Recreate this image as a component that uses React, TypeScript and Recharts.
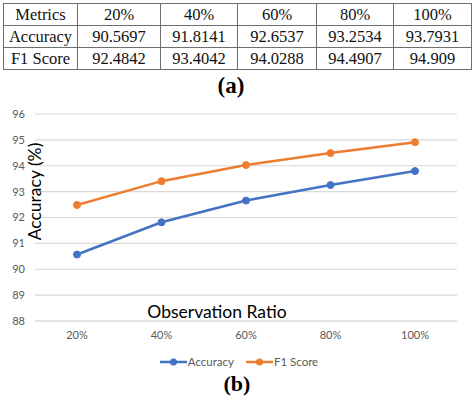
import React from 'react';
import { CartesianGrid, Legend, Line, LineChart, XAxis, YAxis } from 'recharts';

const ratios = ['20%', '40%', '60%', '80%', '100%'];
const accuracy = [90.5697, 91.8141, 92.6537, 93.2534, 93.7931];
const f1Score = [92.4842, 93.4042, 94.0288, 94.4907, 94.909];
const accuracyLabels = ['90.5697', '91.8141', '92.6537', '93.2534', '93.7931'];
const f1Labels = ['92.4842', '93.4042', '94.0288', '94.4907', '94.909'];
const yTicks = [88, 89, 90, 91, 92, 93, 94, 95, 96];

const BLUE = '#4472C4';
const ORANGE = '#ED7D31';
const GREY = '#595959';
const FONT = 'Lato, "Open Sans", sans-serif';

const data = ratios.map((r, i) => ({ ratio: r, Accuracy: accuracy[i], 'F1 Score': f1Score[i] }));

const colWidths = [74, 83, 77, 79, 77, 78];
const cell: React.CSSProperties = {
  border: '1px solid #6f6f6f',
  textAlign: 'center',
  padding: 0,
  height: 21,
  lineHeight: '20px',
};

const LegendContent = ({ payload }: any) => (
  <div style={{ display: 'flex', justifyContent: 'center', gap: 12, fontFamily: FONT, fontSize: 11.5, color: GREY }}>
    {(payload || []).map((p: any) => (
      <div key={p.value} style={{ display: 'flex', alignItems: 'center' }}>
        <svg width={27} height={10}>
          <line x1={0} y1={5} x2={27} y2={5} stroke={p.color} strokeWidth={2.5} />
          <circle cx={13.5} cy={5} r={3.5} fill={p.color} />
        </svg>
        <span style={{ marginLeft: 1 }}>{p.value}</span>
      </div>
    ))}
  </div>
);

export default function App() {
  return (
    <div style={{ position: 'absolute', left: 0, top: 0, width: 474, height: 397, background: '#fff', overflow: 'hidden' }}>
      <table
        style={{
          position: 'absolute',
          left: 3,
          top: 3,
          borderCollapse: 'collapse',
          tableLayout: 'fixed',
          fontFamily: '"Liberation Serif", "Times New Roman", serif',
          fontSize: 16.5,
          color: '#111',
        }}
      >
        <colgroup>
          {colWidths.map((w, i) => (
            <col key={i} style={{ width: w }} />
          ))}
        </colgroup>
        <tbody>
          <tr>
            <td style={cell}>Metrics</td>
            {ratios.map((r) => (
              <td key={r} style={cell}>{r}</td>
            ))}
          </tr>
          <tr>
            <td style={cell}>Accuracy</td>
            {accuracyLabels.map((v) => (
              <td key={v} style={cell}>{v}</td>
            ))}
          </tr>
          <tr>
            <td style={cell}>F1 Score</td>
            {f1Labels.map((v) => (
              <td key={v} style={cell}>{v}</td>
            ))}
          </tr>
        </tbody>
      </table>

      <div style={{ position: 'absolute', left: 0, width: 462, top: 73, textAlign: 'center', fontFamily: '"Liberation Serif", serif', fontWeight: 'bold', fontSize: 23 }}>
        (a)
      </div>

      <div style={{ position: 'absolute', left: 0, top: 100 }}>
        <LineChart width={474} height={297} data={data} margin={{ top: 14, right: 17, left: 0, bottom: 46 }}>
          <CartesianGrid vertical={false} stroke="#d9d9d9" strokeWidth={1.2} />
          <XAxis
            dataKey="ratio"
            height={30}
            padding={{ left: 42, right: 42 }}
            tickLine={false}
            axisLine={{ stroke: '#d9d9d9', strokeWidth: 1.2 }}
            tickMargin={4}
            tick={{ fill: GREY, fontSize: 11, fontFamily: FONT }}
            label={{
              content: ({ viewBox }: any) => (
                <text
                  x={viewBox.x + viewBox.width / 2 - 29}
                  y={viewBox.y - 3}
                  textAnchor="middle"
                  fontFamily={FONT}
                  fontSize={17.5}
                  fill="#000"
                >
                  Observation Ratio
                </text>
              ),
            }}
          />
          <YAxis
            width={35}
            domain={[88, 96]}
            ticks={yTicks}
            tickLine={false}
            axisLine={false}
            tickMargin={4}
            tick={{ fill: GREY, fontSize: 11, fontFamily: FONT }}
            label={{
              content: ({ viewBox }: any) => {
                const x = viewBox.x + viewBox.width + 6;
                const y = viewBox.y + viewBox.height / 2 - 26;
                return (
                  <text
                    x={x}
                    y={y}
                    transform={`rotate(-90, ${x}, ${y})`}
                    textAnchor="middle"
                    fontFamily={FONT}
                    fontSize={17.5}
                    fill="#000"
                  >
                    Accuracy (%)
                  </text>
                );
              },
            }}
          />
          <Legend
            verticalAlign="middle"
            layout="horizontal"
            wrapperStyle={{ top: 255, left: 0, width: 478 }}
            content={<LegendContent />}
          />
          <Line
            type="linear"
            dataKey="Accuracy"
            stroke={BLUE}
            strokeWidth={2.5}
            dot={{ r: 3.5, fill: BLUE, stroke: BLUE, strokeWidth: 1 }}
            isAnimationActive={false}
          />
          <Line
            type="linear"
            dataKey="F1 Score"
            stroke={ORANGE}
            strokeWidth={2.5}
            dot={{ r: 3.5, fill: ORANGE, stroke: ORANGE, strokeWidth: 1 }}
            isAnimationActive={false}
          />
        </LineChart>
      </div>

      <div style={{ position: 'absolute', left: 0, width: 474, top: 371, textAlign: 'center', fontFamily: '"Liberation Serif", serif', fontWeight: 'bold', fontSize: 22 }}>
        (b)
      </div>
    </div>
  );
}
